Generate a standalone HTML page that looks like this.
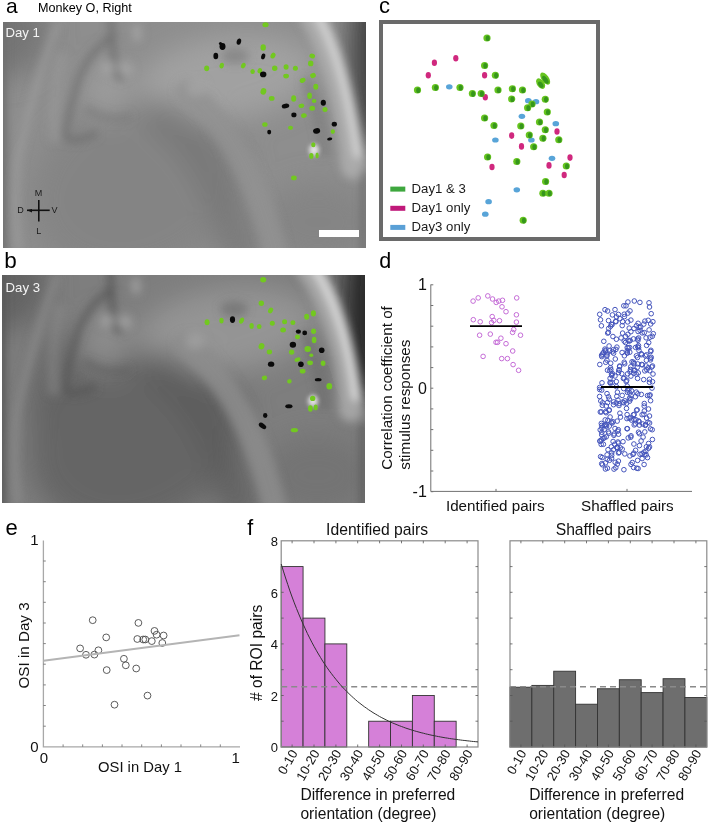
<!DOCTYPE html><html><head><meta charset="utf-8"><style>html,body{margin:0;padding:0;background:#fff;width:708px;height:825px;overflow:hidden}</style></head><body><svg width="708" height="825" viewBox="0 0 708 825" style="position:absolute;left:0;top:0">
<defs>
<filter id="b2" x="-50%" y="-50%" width="200%" height="200%"><feGaussianBlur stdDeviation="2"/></filter>
<filter id="b3" x="-50%" y="-50%" width="200%" height="200%"><feGaussianBlur stdDeviation="3"/></filter>
<filter id="b4" x="-50%" y="-50%" width="200%" height="200%"><feGaussianBlur stdDeviation="4"/></filter>
<filter id="b5" x="-50%" y="-50%" width="200%" height="200%"><feGaussianBlur stdDeviation="5"/></filter>
<filter id="b6" x="-50%" y="-50%" width="200%" height="200%"><feGaussianBlur stdDeviation="6"/></filter>
<filter id="b8" x="-50%" y="-50%" width="200%" height="200%"><feGaussianBlur stdDeviation="8"/></filter>
<filter id="b10" x="-50%" y="-50%" width="200%" height="200%"><feGaussianBlur stdDeviation="10"/></filter>
<filter id="b14" x="-50%" y="-50%" width="200%" height="200%"><feGaussianBlur stdDeviation="14"/></filter>
<filter id="b18" x="-50%" y="-50%" width="200%" height="200%"><feGaussianBlur stdDeviation="18"/></filter>
<filter id="b24" x="-50%" y="-50%" width="200%" height="200%"><feGaussianBlur stdDeviation="24"/></filter>
</defs>
<rect width="708" height="825" fill="#ffffff"/>
<text x="6" y="12.8" font-family="Liberation Sans, Arial, sans-serif" font-size="21">a</text>
<text x="38" y="11.5" font-family="Liberation Sans, Arial, sans-serif" font-size="12.6">Monkey O, Right</text>
<text x="4.3" y="268" font-family="Liberation Sans, Arial, sans-serif" font-size="22.5">b</text>
<text x="379" y="13" font-family="Liberation Sans, Arial, sans-serif" font-size="22">c</text>
<text x="379.3" y="267.8" font-family="Liberation Sans, Arial, sans-serif" font-size="21.5">d</text>
<text x="5.6" y="534.8" font-family="Liberation Sans, Arial, sans-serif" font-size="22">e</text>
<text x="247.2" y="534.9" font-family="Liberation Sans, Arial, sans-serif" font-size="21.5">f</text>
<clipPath id="clip0"><rect x="3" y="22" width="363" height="226"/></clipPath>
<g clip-path="url(#clip0)">
<rect x="3" y="22" width="363" height="226" fill="#8e8e8e"/>
<g filter="url(#b14)">
<ellipse cx="3" cy="32" rx="45" ry="45" fill="#727272" opacity="0.9" transform="rotate(0 3 32)"/>
<ellipse cx="138" cy="184" rx="112" ry="88" fill="#848484" opacity="0.95" transform="rotate(-25 138 184)"/>
<ellipse cx="228" cy="77" rx="90" ry="42" fill="#a6a6a6" opacity="0.8" transform="rotate(-8 228 77)"/>
<ellipse cx="108" cy="92" rx="22" ry="30" fill="#a6a6a6" opacity="0.6" transform="rotate(0 108 92)"/>
<ellipse cx="318" cy="222" rx="55" ry="40" fill="#828282" opacity="0.8" transform="rotate(0 318 222)"/>
<ellipse cx="375" cy="57" rx="24" ry="95" fill="#3c3c3c" opacity="1" transform="rotate(0 375 57)"/>
<path d="M160,95 Q215,135 238,235" transform="translate(3,22)" fill="none" stroke="#747474" stroke-width="34" opacity="0.8" stroke-linecap="round"/>
<ellipse cx="53" cy="127" rx="22" ry="55" fill="#7c7c7c" opacity="0.0" transform="rotate(15 53 127)"/>
</g>
<g filter="url(#b4)">
<path d="M185,70 Q245,120 272,230" transform="translate(3,22)" fill="none" stroke="#929292" stroke-width="24" opacity="0.85" stroke-linecap="round"/>
<path d="M-3,-10 L-3,240" transform="translate(3,22)" fill="none" stroke="#707070" stroke-width="14" opacity="1" stroke-linecap="round"/>
<path d="M58,35 C52,60 50,90 52,115" transform="translate(3,22)" fill="none" stroke="#9c9c9c" stroke-width="12" opacity="0.5" stroke-linecap="round"/>
<path d="M54.5,2.7 C40,40 22,100 15,137 C12,170 12,200 16,226" transform="translate(3,22)" fill="none" stroke="#9c9c9c" stroke-width="6" opacity="0.9" stroke-linecap="round"/>
<path d="M108,-5 L111.6,50.8 L118,56" transform="translate(3,22)" fill="none" stroke="#6e6e6e" stroke-width="6" opacity="0.9" stroke-linecap="round"/>
<path d="M106.6,16.4 Q80,35 72,70 Q62,105 62,115 Q72,122 92,112" transform="translate(3,22)" fill="none" stroke="#6e6e6e" stroke-width="6" opacity="0.85" stroke-linecap="round"/>
<path d="M85,88 Q105,100 125,95" transform="translate(3,22)" fill="none" stroke="#6e6e6e" stroke-width="9" opacity="0.4" stroke-linecap="round"/>
<ellipse cx="108" cy="68" rx="7" ry="7" fill="#a4a4a4" opacity="0.9" transform="rotate(0 108 68)"/>
<ellipse cx="126" cy="69" rx="7" ry="7" fill="#a4a4a4" opacity="0.9" transform="rotate(0 126 69)"/>
<ellipse cx="137" cy="33" rx="5" ry="9" fill="#a4a4a4" opacity="0.9" transform="rotate(0 137 33)"/>
<ellipse cx="196" cy="88" rx="10" ry="8" fill="#a4a4a4" opacity="0.8" transform="rotate(0 196 88)"/>
<ellipse cx="235" cy="56" rx="14" ry="8" fill="#7c7c7c" opacity="0.6" transform="rotate(0 235 56)"/>
<path d="M307,-8 C328,25 342,80 350,145" transform="translate(3,22)" fill="none" stroke="#adadad" stroke-width="24" opacity="0.9" stroke-linecap="round"/>
<path d="M314,-8 C334,25 347,80 355,132" transform="translate(3,22)" fill="none" stroke="#d2d2d2" stroke-width="9" opacity="1" stroke-linecap="round"/>
<path d="M304,60 C312,80 318,100 322,130" transform="translate(3,22)" fill="none" stroke="#7a7a7a" stroke-width="10" opacity="0.6" stroke-linecap="round"/>
<path d="M361,150 L361,240" transform="translate(3,22)" fill="none" stroke="#666666" stroke-width="5" opacity="1" stroke-linecap="round"/>
</g>
<g filter="url(#b2)">
<ellipse cx="314" cy="150" rx="5" ry="6" fill="#ececec" opacity="0.9" transform="rotate(0 314 150)"/>
</g>
</g>
<ellipse cx="265.5" cy="24.7" rx="3.15" ry="2.52" transform="rotate(0 265.5 24.7)" fill="#72c820"/>
<ellipse cx="263.2" cy="47.5" rx="2.70" ry="3.24" transform="rotate(0 263.2 47.5)" fill="#72c820"/>
<ellipse cx="273" cy="55.6" rx="2.34" ry="3.06" transform="rotate(30 273 55.6)" fill="#72c820"/>
<ellipse cx="206.7" cy="68.3" rx="2.52" ry="2.88" transform="rotate(0 206.7 68.3)" fill="#72c820"/>
<ellipse cx="221.7" cy="65.6" rx="2.16" ry="2.88" transform="rotate(15 221.7 65.6)" fill="#72c820"/>
<ellipse cx="243.3" cy="65.6" rx="2.16" ry="2.88" transform="rotate(30 243.3 65.6)" fill="#72c820"/>
<ellipse cx="252.6" cy="71.5" rx="2.25" ry="2.52" transform="rotate(0 252.6 71.5)" fill="#72c820"/>
<ellipse cx="259.8" cy="70.8" rx="2.25" ry="2.70" transform="rotate(20 259.8 70.8)" fill="#72c820"/>
<ellipse cx="274.7" cy="68.3" rx="2.70" ry="2.70" transform="rotate(0 274.7 68.3)" fill="#72c820"/>
<ellipse cx="286.1" cy="67" rx="2.52" ry="2.70" transform="rotate(0 286.1 67)" fill="#72c820"/>
<ellipse cx="295.4" cy="68.3" rx="2.52" ry="2.52" transform="rotate(0 295.4 68.3)" fill="#72c820"/>
<ellipse cx="286.1" cy="76.1" rx="2.88" ry="2.34" transform="rotate(0 286.1 76.1)" fill="#72c820"/>
<ellipse cx="312.2" cy="56" rx="2.88" ry="2.34" transform="rotate(20 312.2 56)" fill="#72c820"/>
<ellipse cx="310.7" cy="63.4" rx="2.70" ry="2.88" transform="rotate(0 310.7 63.4)" fill="#72c820"/>
<ellipse cx="313" cy="75.5" rx="2.88" ry="2.52" transform="rotate(-20 313 75.5)" fill="#72c820"/>
<ellipse cx="302.6" cy="80.4" rx="3.06" ry="2.34" transform="rotate(-30 302.6 80.4)" fill="#72c820"/>
<ellipse cx="315.8" cy="86.7" rx="2.52" ry="3.06" transform="rotate(0 315.8 86.7)" fill="#72c820"/>
<ellipse cx="263.4" cy="91.4" rx="2.88" ry="3.24" transform="rotate(20 263.4 91.4)" fill="#72c820"/>
<ellipse cx="271.7" cy="98.4" rx="2.88" ry="2.34" transform="rotate(0 271.7 98.4)" fill="#72c820"/>
<ellipse cx="293.7" cy="98.5" rx="2.52" ry="3.24" transform="rotate(0 293.7 98.5)" fill="#72c820"/>
<ellipse cx="309.6" cy="95.8" rx="2.34" ry="3.24" transform="rotate(0 309.6 95.8)" fill="#72c820"/>
<ellipse cx="314.1" cy="101.1" rx="2.34" ry="1.98" transform="rotate(0 314.1 101.1)" fill="#72c820"/>
<ellipse cx="301.4" cy="105.8" rx="2.88" ry="2.16" transform="rotate(-15 301.4 105.8)" fill="#72c820"/>
<ellipse cx="312.2" cy="108.2" rx="2.88" ry="2.52" transform="rotate(0 312.2 108.2)" fill="#72c820"/>
<ellipse cx="325" cy="109.5" rx="2.52" ry="2.52" transform="rotate(0 325 109.5)" fill="#72c820"/>
<ellipse cx="303.9" cy="115.6" rx="2.88" ry="2.34" transform="rotate(-15 303.9 115.6)" fill="#72c820"/>
<ellipse cx="264.9" cy="124.5" rx="2.70" ry="2.34" transform="rotate(0 264.9 124.5)" fill="#72c820"/>
<ellipse cx="290.5" cy="127.8" rx="2.52" ry="2.16" transform="rotate(0 290.5 127.8)" fill="#72c820"/>
<ellipse cx="332.8" cy="131.6" rx="2.16" ry="2.34" transform="rotate(0 332.8 131.6)" fill="#72c820"/>
<ellipse cx="313.3" cy="144.7" rx="2.16" ry="2.52" transform="rotate(0 313.3 144.7)" fill="#72c820"/>
<ellipse cx="311.3" cy="155.9" rx="2.16" ry="2.88" transform="rotate(0 311.3 155.9)" fill="#72c820"/>
<ellipse cx="317.1" cy="155.4" rx="1.62" ry="2.88" transform="rotate(0 317.1 155.4)" fill="#72c820"/>
<ellipse cx="293.9" cy="177.9" rx="2.88" ry="2.34" transform="rotate(0 293.9 177.9)" fill="#72c820"/>
<ellipse cx="222.5" cy="46.5" rx="3" ry="3.4" transform="rotate(0 222.5 46.5)" fill="#0a0a0a"/>
<ellipse cx="220.5" cy="43.5" rx="1.6" ry="1.6" transform="rotate(0 220.5 43.5)" fill="#0a0a0a"/>
<ellipse cx="238.9" cy="41.6" rx="2.2" ry="3.2" transform="rotate(15 238.9 41.6)" fill="#0a0a0a"/>
<ellipse cx="215.8" cy="56" rx="2.4" ry="3.2" transform="rotate(0 215.8 56)" fill="#0a0a0a"/>
<ellipse cx="263.2" cy="56.4" rx="2" ry="3" transform="rotate(15 263.2 56.4)" fill="#0a0a0a"/>
<ellipse cx="263.2" cy="74.4" rx="3.2" ry="2.8" transform="rotate(0 263.2 74.4)" fill="#0a0a0a"/>
<ellipse cx="285.5" cy="106" rx="3.8" ry="2.4" transform="rotate(-10 285.5 106)" fill="#0a0a0a"/>
<ellipse cx="323.3" cy="102.7" rx="2.6" ry="3" transform="rotate(0 323.3 102.7)" fill="#0a0a0a"/>
<ellipse cx="293.9" cy="114.9" rx="2.6" ry="2.4" transform="rotate(0 293.9 114.9)" fill="#0a0a0a"/>
<ellipse cx="334.3" cy="124.2" rx="2.6" ry="2.4" transform="rotate(0 334.3 124.2)" fill="#0a0a0a"/>
<ellipse cx="316.6" cy="130.9" rx="3.6" ry="2.8" transform="rotate(-10 316.6 130.9)" fill="#0a0a0a"/>
<ellipse cx="269.2" cy="132.1" rx="2" ry="2.4" transform="rotate(0 269.2 132.1)" fill="#0a0a0a"/>
<ellipse cx="329.7" cy="139" rx="2.6" ry="1.4" transform="rotate(-10 329.7 139)" fill="#0a0a0a"/>
<text x="5.4" y="36.6" font-family="Liberation Sans, Arial, sans-serif" font-size="13.2" fill="#f4f4f4">Day 1</text>
<g stroke="#111" stroke-width="1.6"><line x1="38.8" y1="200" x2="38.8" y2="221.5"/><line x1="27" y1="210.3" x2="49.7" y2="210.3"/></g>
<path d="M27,210.3 L32,209 L32,212.5 Z" fill="#111"/>
<g font-family="Liberation Sans, Arial, sans-serif" font-size="9" fill="#1a1a1a" text-anchor="middle"><text x="38.6" y="195.8">M</text><text x="38.8" y="233.5">L</text><text x="20.6" y="213.3">D</text><text x="54.6" y="213.3">V</text></g>
<rect x="319" y="230" width="40" height="7" fill="#ffffff"/>
<clipPath id="clip1"><rect x="2" y="275" width="363" height="228"/></clipPath>
<g clip-path="url(#clip1)">
<rect x="2" y="275" width="363" height="228" fill="#7e7e7e"/>
<g filter="url(#b14)">
<ellipse cx="2" cy="285" rx="45" ry="45" fill="#606060" opacity="0.9" transform="rotate(0 2 285)"/>
<ellipse cx="137" cy="437" rx="112" ry="88" fill="#646464" opacity="0.95" transform="rotate(-25 137 437)"/>
<ellipse cx="227" cy="330" rx="90" ry="42" fill="#9a9a9a" opacity="0.8" transform="rotate(-8 227 330)"/>
<ellipse cx="107" cy="345" rx="22" ry="30" fill="#9a9a9a" opacity="0.6" transform="rotate(0 107 345)"/>
<ellipse cx="317" cy="475" rx="55" ry="40" fill="#727272" opacity="0.8" transform="rotate(0 317 475)"/>
<ellipse cx="368" cy="310" rx="26" ry="95" fill="#262626" opacity="1" transform="rotate(0 368 310)"/>
<path d="M160,95 Q215,135 238,235" transform="translate(2,275)" fill="none" stroke="#5a5a5a" stroke-width="34" opacity="0.8" stroke-linecap="round"/>
<ellipse cx="52" cy="380" rx="22" ry="55" fill="#626262" opacity="0.8" transform="rotate(15 52 380)"/>
</g>
<g filter="url(#b4)">
<path d="M185,70 Q245,120 272,230" transform="translate(2,275)" fill="none" stroke="#8c8c8c" stroke-width="24" opacity="0.85" stroke-linecap="round"/>
<path d="M-3,-10 L-3,240" transform="translate(2,275)" fill="none" stroke="#5a5a5a" stroke-width="14" opacity="1" stroke-linecap="round"/>
<path d="M58,35 C52,60 50,90 52,115" transform="translate(2,275)" fill="none" stroke="#8c8c8c" stroke-width="12" opacity="0.5" stroke-linecap="round"/>
<path d="M54.5,2.7 C40,40 22,100 15,137 C12,170 12,200 16,226" transform="translate(2,275)" fill="none" stroke="#8c8c8c" stroke-width="6" opacity="0.9" stroke-linecap="round"/>
<path d="M108,-5 L111.6,50.8 L118,56" transform="translate(2,275)" fill="none" stroke="#555555" stroke-width="6" opacity="0.9" stroke-linecap="round"/>
<path d="M106.6,16.4 Q80,35 72,70 Q62,105 62,115 Q72,122 92,112" transform="translate(2,275)" fill="none" stroke="#555555" stroke-width="6" opacity="0.85" stroke-linecap="round"/>
<path d="M85,88 Q105,100 125,95" transform="translate(2,275)" fill="none" stroke="#555555" stroke-width="9" opacity="0.4" stroke-linecap="round"/>
<ellipse cx="107" cy="321" rx="7" ry="7" fill="#a0a0a0" opacity="0.9" transform="rotate(0 107 321)"/>
<ellipse cx="125" cy="322" rx="7" ry="7" fill="#a0a0a0" opacity="0.9" transform="rotate(0 125 322)"/>
<ellipse cx="136" cy="286" rx="5" ry="9" fill="#a0a0a0" opacity="0.9" transform="rotate(0 136 286)"/>
<ellipse cx="195" cy="341" rx="10" ry="8" fill="#a0a0a0" opacity="0.8" transform="rotate(0 195 341)"/>
<ellipse cx="234" cy="309" rx="14" ry="8" fill="#6a6a6a" opacity="0.6" transform="rotate(0 234 309)"/>
<path d="M305,-8 C326,20 342,65 349,135" transform="translate(2,275)" fill="none" stroke="#a8a8a8" stroke-width="24" opacity="0.9" stroke-linecap="round"/>
<path d="M312,-8 C331,20 347,65 354,122" transform="translate(2,275)" fill="none" stroke="#d8d8d8" stroke-width="9" opacity="1" stroke-linecap="round"/>
<path d="M304,60 C312,80 318,100 322,130" transform="translate(2,275)" fill="none" stroke="#6a6a6a" stroke-width="10" opacity="0.6" stroke-linecap="round"/>
<path d="M361,150 L361,240" transform="translate(2,275)" fill="none" stroke="#555555" stroke-width="5" opacity="1" stroke-linecap="round"/>
</g>
<g filter="url(#b2)">
<ellipse cx="313" cy="401" rx="5" ry="6" fill="#ececec" opacity="0.9" transform="rotate(0 313 401)"/>
</g>
</g>
<ellipse cx="263.2" cy="279.7" rx="3.06" ry="2.70" transform="rotate(0 263.2 279.7)" fill="#72c820"/>
<ellipse cx="261.3" cy="303.2" rx="2.70" ry="2.70" transform="rotate(0 261.3 303.2)" fill="#72c820"/>
<ellipse cx="270.6" cy="310.4" rx="2.34" ry="3.06" transform="rotate(30 270.6 310.4)" fill="#72c820"/>
<ellipse cx="207.1" cy="322.3" rx="2.52" ry="3.06" transform="rotate(0 207.1 322.3)" fill="#72c820"/>
<ellipse cx="221.5" cy="320.6" rx="2.16" ry="2.88" transform="rotate(0 221.5 320.6)" fill="#72c820"/>
<ellipse cx="241.6" cy="320.6" rx="2.16" ry="3.24" transform="rotate(30 241.6 320.6)" fill="#72c820"/>
<ellipse cx="251.6" cy="325.9" rx="2.16" ry="2.88" transform="rotate(0 251.6 325.9)" fill="#72c820"/>
<ellipse cx="259.2" cy="326.5" rx="2.34" ry="2.52" transform="rotate(0 259.2 326.5)" fill="#72c820"/>
<ellipse cx="272.3" cy="323.2" rx="2.52" ry="2.52" transform="rotate(0 272.3 323.2)" fill="#72c820"/>
<ellipse cx="284.6" cy="321.7" rx="2.52" ry="2.52" transform="rotate(0 284.6 321.7)" fill="#72c820"/>
<ellipse cx="292.9" cy="322.7" rx="2.52" ry="2.34" transform="rotate(0 292.9 322.7)" fill="#72c820"/>
<ellipse cx="283.1" cy="330.1" rx="2.88" ry="2.52" transform="rotate(0 283.1 330.1)" fill="#72c820"/>
<ellipse cx="306.7" cy="316.8" rx="2.52" ry="3.06" transform="rotate(0 306.7 316.8)" fill="#72c820"/>
<ellipse cx="313.4" cy="313.4" rx="2.52" ry="3.06" transform="rotate(0 313.4 313.4)" fill="#72c820"/>
<ellipse cx="313.6" cy="331.2" rx="2.52" ry="2.70" transform="rotate(0 313.6 331.2)" fill="#72c820"/>
<ellipse cx="297.5" cy="336.9" rx="2.52" ry="2.34" transform="rotate(0 297.5 336.9)" fill="#72c820"/>
<ellipse cx="314.1" cy="340.1" rx="2.34" ry="3.24" transform="rotate(0 314.1 340.1)" fill="#72c820"/>
<ellipse cx="261.5" cy="346.2" rx="2.88" ry="3.24" transform="rotate(20 261.5 346.2)" fill="#72c820"/>
<ellipse cx="269.4" cy="351.9" rx="2.70" ry="2.34" transform="rotate(0 269.4 351.9)" fill="#72c820"/>
<ellipse cx="291.6" cy="352.1" rx="2.70" ry="2.70" transform="rotate(0 291.6 352.1)" fill="#72c820"/>
<ellipse cx="307.7" cy="349" rx="3.24" ry="2.88" transform="rotate(0 307.7 349)" fill="#72c820"/>
<ellipse cx="311.3" cy="355.3" rx="1.98" ry="1.80" transform="rotate(0 311.3 355.3)" fill="#72c820"/>
<ellipse cx="297.5" cy="359.6" rx="3.06" ry="1.98" transform="rotate(-20 297.5 359.6)" fill="#72c820"/>
<ellipse cx="310.1" cy="362.8" rx="2.88" ry="2.34" transform="rotate(0 310.1 362.8)" fill="#72c820"/>
<ellipse cx="323.1" cy="363.2" rx="2.34" ry="2.70" transform="rotate(0 323.1 363.2)" fill="#72c820"/>
<ellipse cx="302.6" cy="371.2" rx="2.88" ry="2.34" transform="rotate(0 302.6 371.2)" fill="#72c820"/>
<ellipse cx="264.4" cy="377.9" rx="2.70" ry="2.16" transform="rotate(-20 264.4 377.9)" fill="#72c820"/>
<ellipse cx="289.4" cy="381.3" rx="2.34" ry="2.16" transform="rotate(-30 289.4 381.3)" fill="#72c820"/>
<ellipse cx="329.3" cy="386.3" rx="2.88" ry="3.24" transform="rotate(0 329.3 386.3)" fill="#72c820"/>
<ellipse cx="312.7" cy="398.4" rx="2.70" ry="2.70" transform="rotate(0 312.7 398.4)" fill="#72c820"/>
<ellipse cx="310.4" cy="408.5" rx="2.34" ry="3.24" transform="rotate(0 310.4 408.5)" fill="#72c820"/>
<ellipse cx="315.7" cy="407.4" rx="1.98" ry="2.88" transform="rotate(0 315.7 407.4)" fill="#72c820"/>
<ellipse cx="294.4" cy="430.2" rx="3.60" ry="2.16" transform="rotate(0 294.4 430.2)" fill="#72c820"/>
<ellipse cx="232.5" cy="319.6" rx="2.6" ry="3.4" transform="rotate(0 232.5 319.6)" fill="#0a0a0a"/>
<ellipse cx="298.4" cy="331.6" rx="2.6" ry="2.2" transform="rotate(0 298.4 331.6)" fill="#0a0a0a"/>
<ellipse cx="304.7" cy="332.9" rx="2.4" ry="2.4" transform="rotate(0 304.7 332.9)" fill="#0a0a0a"/>
<ellipse cx="292.9" cy="344.8" rx="3.2" ry="3" transform="rotate(0 292.9 344.8)" fill="#0a0a0a"/>
<ellipse cx="321.7" cy="350.3" rx="2.8" ry="2.8" transform="rotate(0 321.7 350.3)" fill="#0a0a0a"/>
<ellipse cx="271.1" cy="364.2" rx="3.2" ry="2.6" transform="rotate(0 271.1 364.2)" fill="#0a0a0a"/>
<ellipse cx="300.9" cy="364.2" rx="2.8" ry="2.8" transform="rotate(0 300.9 364.2)" fill="#0a0a0a"/>
<ellipse cx="318.2" cy="379.7" rx="3.4" ry="1.6" transform="rotate(0 318.2 379.7)" fill="#0a0a0a"/>
<ellipse cx="288.9" cy="406.2" rx="3.6" ry="2" transform="rotate(0 288.9 406.2)" fill="#0a0a0a"/>
<ellipse cx="265.2" cy="415.5" rx="2.2" ry="2.4" transform="rotate(0 265.2 415.5)" fill="#0a0a0a"/>
<ellipse cx="262.5" cy="425.9" rx="4.2" ry="2.4" transform="rotate(35 262.5 425.9)" fill="#0a0a0a"/>
<text x="5.6" y="291.7" font-family="Liberation Sans, Arial, sans-serif" font-size="13.2" fill="#f4f4f4">Day 3</text>
<rect x="381" y="22" width="217" height="217" fill="#fff" stroke="#6a6a6a" stroke-width="4"/>
<ellipse cx="434.4" cy="62.7" rx="2.6" ry="3.3" fill="#d0287e"/>
<ellipse cx="455.8" cy="58.3" rx="2.6" ry="3.3" fill="#d0287e"/>
<ellipse cx="428.3" cy="75.3" rx="2.6" ry="3.3" fill="#d0287e"/>
<ellipse cx="484.6" cy="75.3" rx="2.6" ry="3.3" fill="#d0287e"/>
<ellipse cx="485.3" cy="97.3" rx="2.6" ry="3.3" fill="#d0287e"/>
<ellipse cx="511.7" cy="135.6" rx="2.6" ry="3.3" fill="#d0287e"/>
<ellipse cx="521.5" cy="146.4" rx="2.6" ry="3.3" fill="#d0287e"/>
<ellipse cx="557" cy="131.5" rx="2.6" ry="3.3" fill="#d0287e"/>
<ellipse cx="570" cy="157.6" rx="2.6" ry="3.3" fill="#d0287e"/>
<ellipse cx="549" cy="165.4" rx="2.6" ry="3.3" fill="#d0287e"/>
<ellipse cx="492" cy="167" rx="2.6" ry="3.3" fill="#d0287e"/>
<ellipse cx="564.2" cy="175" rx="2.6" ry="3.3" fill="#d0287e"/>
<ellipse cx="449.3" cy="86.8" rx="3.3" ry="2.6" fill="#58a4d8"/>
<ellipse cx="528.3" cy="100.7" rx="3.3" ry="2.6" fill="#58a4d8"/>
<ellipse cx="536" cy="101.7" rx="3.3" ry="2.6" fill="#58a4d8"/>
<ellipse cx="521.9" cy="116.3" rx="3.3" ry="2.6" fill="#58a4d8"/>
<ellipse cx="555.8" cy="123.7" rx="3.3" ry="2.6" fill="#58a4d8"/>
<ellipse cx="495.4" cy="140" rx="3.3" ry="2.6" fill="#58a4d8"/>
<ellipse cx="531.4" cy="140" rx="3.3" ry="2.6" fill="#58a4d8"/>
<ellipse cx="552" cy="158.3" rx="3.3" ry="2.6" fill="#58a4d8"/>
<ellipse cx="516.8" cy="189.8" rx="3.3" ry="2.6" fill="#58a4d8"/>
<ellipse cx="488.6" cy="201.7" rx="3.3" ry="2.6" fill="#58a4d8"/>
<ellipse cx="485.3" cy="214.2" rx="3.3" ry="2.6" fill="#58a4d8"/>
<ellipse cx="487" cy="38" rx="3.6" ry="3.5" fill="#66c41f"/>
<ellipse cx="487.7" cy="38.3" rx="2" ry="2.8" fill="#36961c"/>
<ellipse cx="484.6" cy="65.4" rx="3.6" ry="3.5" fill="#66c41f"/>
<ellipse cx="485.3" cy="65.7" rx="2" ry="2.8" fill="#36961c"/>
<ellipse cx="495.4" cy="75.3" rx="3.6" ry="3.5" fill="#66c41f"/>
<ellipse cx="496.09999999999997" cy="75.6" rx="2" ry="2.8" fill="#36961c"/>
<ellipse cx="417.5" cy="90" rx="3.6" ry="3.5" fill="#66c41f"/>
<ellipse cx="418.2" cy="90.3" rx="2" ry="2.8" fill="#36961c"/>
<ellipse cx="435.4" cy="87.5" rx="3.6" ry="3.5" fill="#66c41f"/>
<ellipse cx="436.09999999999997" cy="87.8" rx="2" ry="2.8" fill="#36961c"/>
<ellipse cx="460" cy="87.5" rx="3.6" ry="3.5" fill="#66c41f"/>
<ellipse cx="460.7" cy="87.8" rx="2" ry="2.8" fill="#36961c"/>
<ellipse cx="472.4" cy="93.6" rx="3.6" ry="3.5" fill="#66c41f"/>
<ellipse cx="473.09999999999997" cy="93.89999999999999" rx="2" ry="2.8" fill="#36961c"/>
<ellipse cx="481.2" cy="93.6" rx="3.6" ry="3.5" fill="#66c41f"/>
<ellipse cx="481.9" cy="93.89999999999999" rx="2" ry="2.8" fill="#36961c"/>
<ellipse cx="498" cy="90" rx="3.6" ry="3.5" fill="#66c41f"/>
<ellipse cx="498.7" cy="90.3" rx="2" ry="2.8" fill="#36961c"/>
<ellipse cx="512.4" cy="88.8" rx="3.6" ry="3.5" fill="#66c41f"/>
<ellipse cx="513.1" cy="89.1" rx="2" ry="2.8" fill="#36961c"/>
<ellipse cx="522.5" cy="90" rx="3.6" ry="3.5" fill="#66c41f"/>
<ellipse cx="523.2" cy="90.3" rx="2" ry="2.8" fill="#36961c"/>
<ellipse cx="511.7" cy="99" rx="3.6" ry="3.5" fill="#66c41f"/>
<ellipse cx="512.4" cy="99.3" rx="2" ry="2.8" fill="#36961c"/>
<ellipse cx="545.3" cy="99.3" rx="3.6" ry="3.5" fill="#66c41f"/>
<ellipse cx="546.0" cy="99.6" rx="2" ry="2.8" fill="#36961c"/>
<ellipse cx="532" cy="104" rx="3.6" ry="3.5" fill="#66c41f"/>
<ellipse cx="532.7" cy="104.3" rx="2" ry="2.8" fill="#36961c"/>
<ellipse cx="527.6" cy="107.8" rx="3.6" ry="3.5" fill="#66c41f"/>
<ellipse cx="528.3000000000001" cy="108.1" rx="2" ry="2.8" fill="#36961c"/>
<ellipse cx="547.3" cy="111.9" rx="3.6" ry="3.5" fill="#66c41f"/>
<ellipse cx="548.0" cy="112.2" rx="2" ry="2.8" fill="#36961c"/>
<ellipse cx="484.6" cy="118" rx="3.6" ry="3.5" fill="#66c41f"/>
<ellipse cx="485.3" cy="118.3" rx="2" ry="2.8" fill="#36961c"/>
<ellipse cx="494" cy="125.4" rx="3.6" ry="3.5" fill="#66c41f"/>
<ellipse cx="494.7" cy="125.7" rx="2" ry="2.8" fill="#36961c"/>
<ellipse cx="520.8" cy="126" rx="3.6" ry="3.5" fill="#66c41f"/>
<ellipse cx="521.5" cy="126.3" rx="2" ry="2.8" fill="#36961c"/>
<ellipse cx="539.5" cy="122" rx="3.6" ry="3.5" fill="#66c41f"/>
<ellipse cx="540.2" cy="122.3" rx="2" ry="2.8" fill="#36961c"/>
<ellipse cx="545.3" cy="129.8" rx="3.6" ry="3.5" fill="#66c41f"/>
<ellipse cx="546.0" cy="130.10000000000002" rx="2" ry="2.8" fill="#36961c"/>
<ellipse cx="529.3" cy="135" rx="3.6" ry="3.5" fill="#66c41f"/>
<ellipse cx="530.0" cy="135.3" rx="2" ry="2.8" fill="#36961c"/>
<ellipse cx="542.9" cy="138.3" rx="3.6" ry="3.5" fill="#66c41f"/>
<ellipse cx="543.6" cy="138.60000000000002" rx="2" ry="2.8" fill="#36961c"/>
<ellipse cx="558.8" cy="139.7" rx="3.6" ry="3.5" fill="#66c41f"/>
<ellipse cx="559.5" cy="140.0" rx="2" ry="2.8" fill="#36961c"/>
<ellipse cx="533.7" cy="146.8" rx="3.6" ry="3.5" fill="#66c41f"/>
<ellipse cx="534.4000000000001" cy="147.10000000000002" rx="2" ry="2.8" fill="#36961c"/>
<ellipse cx="487.6" cy="157" rx="3.6" ry="3.5" fill="#66c41f"/>
<ellipse cx="488.3" cy="157.3" rx="2" ry="2.8" fill="#36961c"/>
<ellipse cx="516.8" cy="161.4" rx="3.6" ry="3.5" fill="#66c41f"/>
<ellipse cx="517.5" cy="161.70000000000002" rx="2" ry="2.8" fill="#36961c"/>
<ellipse cx="566.3" cy="166" rx="3.6" ry="3.5" fill="#66c41f"/>
<ellipse cx="567.0" cy="166.3" rx="2" ry="2.8" fill="#36961c"/>
<ellipse cx="545.6" cy="181.4" rx="3.6" ry="3.5" fill="#66c41f"/>
<ellipse cx="546.3000000000001" cy="181.70000000000002" rx="2" ry="2.8" fill="#36961c"/>
<ellipse cx="542.9" cy="193.2" rx="3.6" ry="3.5" fill="#66c41f"/>
<ellipse cx="543.6" cy="193.5" rx="2" ry="2.8" fill="#36961c"/>
<ellipse cx="549" cy="193.2" rx="3.6" ry="3.5" fill="#66c41f"/>
<ellipse cx="549.7" cy="193.5" rx="2" ry="2.8" fill="#36961c"/>
<ellipse cx="523.2" cy="220.3" rx="3.6" ry="3.5" fill="#66c41f"/>
<ellipse cx="523.9000000000001" cy="220.60000000000002" rx="2" ry="2.8" fill="#36961c"/>
<ellipse cx="545.2" cy="78.6" rx="7" ry="3.6" transform="rotate(55 545.2 78.6)" fill="#66c41f"/>
<ellipse cx="546.2" cy="79.1" rx="4.5" ry="2.2" transform="rotate(55 545.2 78.6)" fill="#36961c"/>
<ellipse cx="540.6" cy="83.6" rx="6" ry="3.6" transform="rotate(55 540.6 83.6)" fill="#66c41f"/>
<ellipse cx="541.6" cy="84.1" rx="3.5" ry="2.2" transform="rotate(55 540.6 83.6)" fill="#36961c"/>
<rect x="390.3" y="186.6" width="15" height="5" fill="#3ea73e"/>
<rect x="390.3" y="205.8" width="15" height="5" fill="#c0197a"/>
<rect x="390.3" y="224.9" width="15" height="5" fill="#5aa0d6"/>
<g font-family="Liberation Sans, Arial, sans-serif" font-size="13.2" fill="#1a1a1a"><text x="411.6" y="193.4">Day1 &amp; 3</text><text x="411.6" y="212.4">Day1 only</text><text x="411.6" y="230.8">Day3 only</text></g>
<g stroke="#707070" stroke-width="1" fill="none">
<path d="M430.8,284.5 V491.4 H692"/>
<line x1="430.8" y1="284.8" x2="433.3" y2="284.8"/>
<line x1="430.8" y1="305.5" x2="433.3" y2="305.5"/>
<line x1="430.8" y1="326.2" x2="433.3" y2="326.2"/>
<line x1="430.8" y1="346.9" x2="433.3" y2="346.9"/>
<line x1="430.8" y1="367.6" x2="433.3" y2="367.6"/>
<line x1="430.8" y1="388.2" x2="433.3" y2="388.2"/>
<line x1="430.8" y1="408.9" x2="433.3" y2="408.9"/>
<line x1="430.8" y1="429.6" x2="433.3" y2="429.6"/>
<line x1="430.8" y1="450.3" x2="433.3" y2="450.3"/>
<line x1="430.8" y1="471.0" x2="433.3" y2="471.0"/>
<line x1="430.8" y1="491.7" x2="433.3" y2="491.7"/>
<line x1="496" y1="491.4" x2="496" y2="488.9"/><line x1="627" y1="491.4" x2="627" y2="488.9"/>
</g>
<g font-family="Liberation Sans, Arial, sans-serif" font-size="16" fill="#111" text-anchor="end"><text x="426.8" y="289.6">1</text><text x="426.8" y="393.8">0</text><text x="426.8" y="496.6">-1</text></g>
<g font-family="Liberation Sans, Arial, sans-serif" font-size="15.2" fill="#111"><text transform="translate(392,469.7) rotate(-90)">Correlation coefficient of</text><text transform="translate(410.3,469.7) rotate(-90)">stimulus responses</text></g>
<g font-family="Liberation Sans, Arial, sans-serif" font-size="15.2" fill="#111" text-anchor="middle"><text x="495.3" y="511.2">Identified pairs</text><text x="627.4" y="511.2">Shaffled pairs</text></g>
<g fill="none" stroke="#c46bd6" stroke-width="1">
<circle cx="473.1" cy="301.1" r="2.3"/>
<circle cx="478.2" cy="297.9" r="2.3"/>
<circle cx="487.8" cy="295.9" r="2.3"/>
<circle cx="492.5" cy="299" r="2.3"/>
<circle cx="496.2" cy="302.4" r="2.3"/>
<circle cx="498.7" cy="301.1" r="2.3"/>
<circle cx="502.5" cy="300.3" r="2.3"/>
<circle cx="516.7" cy="297.9" r="2.3"/>
<circle cx="502" cy="306.8" r="2.3"/>
<circle cx="506" cy="311.7" r="2.3"/>
<circle cx="473.3" cy="319.7" r="2.3"/>
<circle cx="480.2" cy="321.8" r="2.3"/>
<circle cx="492.2" cy="316.6" r="2.3"/>
<circle cx="493.8" cy="320.4" r="2.3"/>
<circle cx="491.6" cy="322.6" r="2.3"/>
<circle cx="499.5" cy="320.7" r="2.3"/>
<circle cx="516.4" cy="314.8" r="2.3"/>
<circle cx="516.4" cy="322.1" r="2.3"/>
<circle cx="513.7" cy="329.5" r="2.3"/>
<circle cx="512.6" cy="332.4" r="2.3"/>
<circle cx="520.5" cy="335.2" r="2.3"/>
<circle cx="479.6" cy="335.2" r="2.3"/>
<circle cx="490.3" cy="334.1" r="2.3"/>
<circle cx="500.9" cy="338.2" r="2.3"/>
<circle cx="496" cy="342.3" r="2.3"/>
<circle cx="497.6" cy="342.3" r="2.3"/>
<circle cx="506" cy="343.7" r="2.3"/>
<circle cx="512.7" cy="351" r="2.3"/>
<circle cx="483.1" cy="356.4" r="2.3"/>
<circle cx="501.7" cy="358.6" r="2.3"/>
<circle cx="507.4" cy="358.6" r="2.3"/>
<circle cx="513.1" cy="364.6" r="2.3"/>
<circle cx="518.6" cy="370.3" r="2.3"/>
</g>
<line x1="470" y1="326.1" x2="522" y2="326.1" stroke="#000" stroke-width="1.7"/>
<g fill="none" stroke="#4454bb" stroke-width="1">
<circle cx="626.9" cy="418.6" r="2.3"/>
<circle cx="611.6" cy="458.2" r="2.3"/>
<circle cx="602.0" cy="382.8" r="2.3"/>
<circle cx="619.6" cy="366.7" r="2.3"/>
<circle cx="622.6" cy="321.7" r="2.3"/>
<circle cx="637.2" cy="409.8" r="2.3"/>
<circle cx="615.0" cy="428.5" r="2.3"/>
<circle cx="635.6" cy="347.4" r="2.3"/>
<circle cx="624.1" cy="378.0" r="2.3"/>
<circle cx="637.4" cy="339.0" r="2.3"/>
<circle cx="624.4" cy="355.8" r="2.3"/>
<circle cx="646.6" cy="418.1" r="2.3"/>
<circle cx="646.2" cy="454.9" r="2.3"/>
<circle cx="607.6" cy="402.5" r="2.3"/>
<circle cx="613.7" cy="401.9" r="2.3"/>
<circle cx="636.8" cy="468.2" r="2.3"/>
<circle cx="633.8" cy="373.2" r="2.3"/>
<circle cx="605.0" cy="309.7" r="2.3"/>
<circle cx="645.3" cy="425.4" r="2.3"/>
<circle cx="644.3" cy="332.6" r="2.3"/>
<circle cx="646.1" cy="337.8" r="2.3"/>
<circle cx="628.3" cy="347.8" r="2.3"/>
<circle cx="611.7" cy="455.3" r="2.3"/>
<circle cx="651.2" cy="357.3" r="2.3"/>
<circle cx="610.1" cy="378.3" r="2.3"/>
<circle cx="604.1" cy="429.7" r="2.3"/>
<circle cx="609.1" cy="410.4" r="2.3"/>
<circle cx="638.6" cy="338.0" r="2.3"/>
<circle cx="618.4" cy="461.1" r="2.3"/>
<circle cx="627.9" cy="313.1" r="2.3"/>
<circle cx="613.5" cy="404.7" r="2.3"/>
<circle cx="622.2" cy="395.4" r="2.3"/>
<circle cx="599.7" cy="314.3" r="2.3"/>
<circle cx="629.5" cy="401.2" r="2.3"/>
<circle cx="629.8" cy="352.2" r="2.3"/>
<circle cx="627.2" cy="347.6" r="2.3"/>
<circle cx="637.3" cy="367.4" r="2.3"/>
<circle cx="644.9" cy="321.1" r="2.3"/>
<circle cx="607.8" cy="420.4" r="2.3"/>
<circle cx="611.4" cy="324.1" r="2.3"/>
<circle cx="610.1" cy="382.3" r="2.3"/>
<circle cx="600.5" cy="319.8" r="2.3"/>
<circle cx="642.1" cy="414.7" r="2.3"/>
<circle cx="630.3" cy="417.8" r="2.3"/>
<circle cx="633.8" cy="453.1" r="2.3"/>
<circle cx="605.4" cy="351.2" r="2.3"/>
<circle cx="626.5" cy="408.4" r="2.3"/>
<circle cx="639.1" cy="327.3" r="2.3"/>
<circle cx="643.7" cy="379.6" r="2.3"/>
<circle cx="618.0" cy="400.1" r="2.3"/>
<circle cx="603.3" cy="352.6" r="2.3"/>
<circle cx="615.3" cy="359.0" r="2.3"/>
<circle cx="652.0" cy="388.1" r="2.3"/>
<circle cx="610.4" cy="367.7" r="2.3"/>
<circle cx="601.8" cy="356.6" r="2.3"/>
<circle cx="640.0" cy="454.2" r="2.3"/>
<circle cx="638.6" cy="347.7" r="2.3"/>
<circle cx="607.0" cy="354.9" r="2.3"/>
<circle cx="631.0" cy="435.8" r="2.3"/>
<circle cx="629.7" cy="347.5" r="2.3"/>
<circle cx="639.9" cy="302.4" r="2.3"/>
<circle cx="610.6" cy="326.3" r="2.3"/>
<circle cx="636.4" cy="355.8" r="2.3"/>
<circle cx="615.9" cy="321.7" r="2.3"/>
<circle cx="615.2" cy="462.3" r="2.3"/>
<circle cx="610.3" cy="383.1" r="2.3"/>
<circle cx="614.0" cy="469.1" r="2.3"/>
<circle cx="627.8" cy="390.1" r="2.3"/>
<circle cx="623.8" cy="305.8" r="2.3"/>
<circle cx="599.6" cy="396.5" r="2.3"/>
<circle cx="648.2" cy="320.3" r="2.3"/>
<circle cx="619.0" cy="405.5" r="2.3"/>
<circle cx="619.7" cy="366.0" r="2.3"/>
<circle cx="639.0" cy="350.6" r="2.3"/>
<circle cx="649.5" cy="416.0" r="2.3"/>
<circle cx="652.2" cy="429.7" r="2.3"/>
<circle cx="608.5" cy="396.8" r="2.3"/>
<circle cx="623.8" cy="402.8" r="2.3"/>
<circle cx="612.4" cy="373.6" r="2.3"/>
<circle cx="619.9" cy="413.2" r="2.3"/>
<circle cx="626.7" cy="380.3" r="2.3"/>
<circle cx="621.1" cy="337.9" r="2.3"/>
<circle cx="601.2" cy="444.4" r="2.3"/>
<circle cx="649.5" cy="307.0" r="2.3"/>
<circle cx="638.5" cy="345.6" r="2.3"/>
<circle cx="641.7" cy="364.4" r="2.3"/>
<circle cx="613.1" cy="441.5" r="2.3"/>
<circle cx="611.6" cy="374.4" r="2.3"/>
<circle cx="637.6" cy="378.4" r="2.3"/>
<circle cx="649.5" cy="379.3" r="2.3"/>
<circle cx="639.4" cy="433.7" r="2.3"/>
<circle cx="650.9" cy="350.3" r="2.3"/>
<circle cx="650.7" cy="351.5" r="2.3"/>
<circle cx="602.3" cy="405.3" r="2.3"/>
<circle cx="617.3" cy="464.1" r="2.3"/>
<circle cx="617.4" cy="448.2" r="2.3"/>
<circle cx="622.9" cy="402.0" r="2.3"/>
<circle cx="619.2" cy="452.4" r="2.3"/>
<circle cx="614.2" cy="433.9" r="2.3"/>
<circle cx="649.0" cy="302.8" r="2.3"/>
<circle cx="651.2" cy="313.7" r="2.3"/>
<circle cx="642.8" cy="424.0" r="2.3"/>
<circle cx="616.8" cy="396.3" r="2.3"/>
<circle cx="612.9" cy="336.5" r="2.3"/>
<circle cx="612.1" cy="382.6" r="2.3"/>
<circle cx="635.4" cy="423.9" r="2.3"/>
<circle cx="639.4" cy="425.1" r="2.3"/>
<circle cx="630.7" cy="399.0" r="2.3"/>
<circle cx="653.0" cy="374.0" r="2.3"/>
<circle cx="601.7" cy="463.7" r="2.3"/>
<circle cx="649.7" cy="370.7" r="2.3"/>
<circle cx="650.6" cy="400.7" r="2.3"/>
<circle cx="607.1" cy="454.8" r="2.3"/>
<circle cx="600.1" cy="441.0" r="2.3"/>
<circle cx="642.4" cy="364.9" r="2.3"/>
<circle cx="634.0" cy="328.5" r="2.3"/>
<circle cx="616.4" cy="339.2" r="2.3"/>
<circle cx="619.1" cy="369.8" r="2.3"/>
<circle cx="604.3" cy="437.7" r="2.3"/>
<circle cx="627.6" cy="373.8" r="2.3"/>
<circle cx="625.6" cy="336.4" r="2.3"/>
<circle cx="644.0" cy="452.1" r="2.3"/>
<circle cx="644.3" cy="403.5" r="2.3"/>
<circle cx="606.1" cy="424.7" r="2.3"/>
<circle cx="644.8" cy="431.9" r="2.3"/>
<circle cx="622.2" cy="449.1" r="2.3"/>
<circle cx="600.8" cy="401.0" r="2.3"/>
<circle cx="624.2" cy="341.1" r="2.3"/>
<circle cx="627.0" cy="428.7" r="2.3"/>
<circle cx="627.1" cy="414.6" r="2.3"/>
<circle cx="645.8" cy="451.3" r="2.3"/>
<circle cx="647.9" cy="422.3" r="2.3"/>
<circle cx="610.7" cy="363.2" r="2.3"/>
<circle cx="636.2" cy="374.1" r="2.3"/>
<circle cx="630.8" cy="366.8" r="2.3"/>
<circle cx="619.0" cy="370.2" r="2.3"/>
<circle cx="643.8" cy="324.1" r="2.3"/>
<circle cx="607.6" cy="311.0" r="2.3"/>
<circle cx="611.8" cy="375.7" r="2.3"/>
<circle cx="631.0" cy="464.4" r="2.3"/>
<circle cx="650.1" cy="394.9" r="2.3"/>
<circle cx="641.7" cy="354.7" r="2.3"/>
<circle cx="618.4" cy="314.4" r="2.3"/>
<circle cx="628.2" cy="340.2" r="2.3"/>
<circle cx="629.2" cy="328.1" r="2.3"/>
<circle cx="608.9" cy="433.2" r="2.3"/>
<circle cx="638.1" cy="331.5" r="2.3"/>
<circle cx="623.9" cy="469.7" r="2.3"/>
<circle cx="613.9" cy="435.3" r="2.3"/>
<circle cx="634.2" cy="424.9" r="2.3"/>
<circle cx="617.2" cy="447.4" r="2.3"/>
<circle cx="652.4" cy="439.5" r="2.3"/>
<circle cx="638.6" cy="420.9" r="2.3"/>
<circle cx="648.7" cy="342.6" r="2.3"/>
<circle cx="601.7" cy="434.8" r="2.3"/>
<circle cx="631.4" cy="390.7" r="2.3"/>
<circle cx="646.4" cy="446.8" r="2.3"/>
<circle cx="644.1" cy="464.5" r="2.3"/>
<circle cx="613.4" cy="349.7" r="2.3"/>
<circle cx="626.7" cy="403.2" r="2.3"/>
<circle cx="637.6" cy="460.4" r="2.3"/>
<circle cx="626.0" cy="305.8" r="2.3"/>
<circle cx="605.4" cy="350.3" r="2.3"/>
<circle cx="633.4" cy="414.8" r="2.3"/>
<circle cx="647.5" cy="395.6" r="2.3"/>
<circle cx="612.1" cy="423.1" r="2.3"/>
<circle cx="618.3" cy="429.7" r="2.3"/>
<circle cx="606.3" cy="406.0" r="2.3"/>
<circle cx="637.5" cy="357.5" r="2.3"/>
<circle cx="617.2" cy="421.1" r="2.3"/>
<circle cx="639.1" cy="421.7" r="2.3"/>
<circle cx="620.5" cy="417.1" r="2.3"/>
<circle cx="633.6" cy="467.5" r="2.3"/>
<circle cx="648.5" cy="409.0" r="2.3"/>
<circle cx="638.5" cy="432.2" r="2.3"/>
<circle cx="616.4" cy="386.7" r="2.3"/>
<circle cx="633.5" cy="362.2" r="2.3"/>
<circle cx="636.0" cy="419.8" r="2.3"/>
<circle cx="601.6" cy="355.2" r="2.3"/>
<circle cx="605.0" cy="425.0" r="2.3"/>
<circle cx="644.3" cy="411.0" r="2.3"/>
<circle cx="606.1" cy="412.7" r="2.3"/>
<circle cx="618.5" cy="453.0" r="2.3"/>
<circle cx="611.3" cy="446.8" r="2.3"/>
<circle cx="624.8" cy="453.9" r="2.3"/>
<circle cx="624.8" cy="400.8" r="2.3"/>
<circle cx="645.4" cy="355.8" r="2.3"/>
<circle cx="599.6" cy="387.5" r="2.3"/>
<circle cx="622.6" cy="333.1" r="2.3"/>
<circle cx="602.6" cy="354.2" r="2.3"/>
<circle cx="612.1" cy="324.6" r="2.3"/>
<circle cx="642.1" cy="458.6" r="2.3"/>
<circle cx="629.5" cy="398.2" r="2.3"/>
<circle cx="624.7" cy="363.8" r="2.3"/>
<circle cx="599.9" cy="441.1" r="2.3"/>
<circle cx="633.9" cy="370.6" r="2.3"/>
<circle cx="638.3" cy="372.9" r="2.3"/>
<circle cx="610.9" cy="369.5" r="2.3"/>
<circle cx="644.2" cy="406.0" r="2.3"/>
<circle cx="634.8" cy="370.1" r="2.3"/>
<circle cx="601.7" cy="425.4" r="2.3"/>
<circle cx="599.8" cy="364.5" r="2.3"/>
<circle cx="648.6" cy="443.5" r="2.3"/>
<circle cx="636.3" cy="392.1" r="2.3"/>
<circle cx="609.3" cy="426.1" r="2.3"/>
<circle cx="629.9" cy="455.9" r="2.3"/>
<circle cx="634.2" cy="414.4" r="2.3"/>
<circle cx="649.1" cy="329.9" r="2.3"/>
<circle cx="652.5" cy="381.7" r="2.3"/>
<circle cx="607.7" cy="333.1" r="2.3"/>
<circle cx="602.2" cy="457.5" r="2.3"/>
<circle cx="624.4" cy="316.6" r="2.3"/>
<circle cx="608.5" cy="320.6" r="2.3"/>
<circle cx="607.3" cy="459.3" r="2.3"/>
<circle cx="650.5" cy="359.9" r="2.3"/>
<circle cx="632.0" cy="361.8" r="2.3"/>
<circle cx="643.1" cy="437.1" r="2.3"/>
<circle cx="601.8" cy="432.3" r="2.3"/>
<circle cx="636.5" cy="325.7" r="2.3"/>
<circle cx="632.3" cy="462.5" r="2.3"/>
<circle cx="642.2" cy="332.9" r="2.3"/>
<circle cx="630.8" cy="437.2" r="2.3"/>
<circle cx="609.3" cy="399.2" r="2.3"/>
<circle cx="607.5" cy="370.2" r="2.3"/>
<circle cx="642.0" cy="453.8" r="2.3"/>
<circle cx="601.3" cy="423.4" r="2.3"/>
<circle cx="650.6" cy="358.3" r="2.3"/>
<circle cx="624.2" cy="314.2" r="2.3"/>
<circle cx="613.4" cy="449.8" r="2.3"/>
<circle cx="651.7" cy="367.0" r="2.3"/>
<circle cx="644.7" cy="454.5" r="2.3"/>
<circle cx="602.5" cy="464.8" r="2.3"/>
<circle cx="605.2" cy="419.9" r="2.3"/>
<circle cx="612.4" cy="351.8" r="2.3"/>
<circle cx="601.4" cy="325.8" r="2.3"/>
<circle cx="643.9" cy="414.3" r="2.3"/>
<circle cx="638.0" cy="340.3" r="2.3"/>
<circle cx="644.8" cy="370.9" r="2.3"/>
<circle cx="605.7" cy="411.6" r="2.3"/>
<circle cx="619.2" cy="403.6" r="2.3"/>
<circle cx="652.3" cy="336.3" r="2.3"/>
<circle cx="627.9" cy="302.0" r="2.3"/>
<circle cx="641.1" cy="441.0" r="2.3"/>
<circle cx="637.7" cy="346.8" r="2.3"/>
<circle cx="600.3" cy="412.0" r="2.3"/>
<circle cx="631.6" cy="420.1" r="2.3"/>
<circle cx="638.1" cy="468.5" r="2.3"/>
<circle cx="640.1" cy="330.4" r="2.3"/>
<circle cx="600.6" cy="456.6" r="2.3"/>
<circle cx="627.7" cy="321.9" r="2.3"/>
<circle cx="606.9" cy="360.1" r="2.3"/>
<circle cx="608.4" cy="332.3" r="2.3"/>
<circle cx="627.9" cy="334.3" r="2.3"/>
<circle cx="652.5" cy="366.0" r="2.3"/>
<circle cx="627.4" cy="392.3" r="2.3"/>
<circle cx="603.2" cy="438.5" r="2.3"/>
<circle cx="601.4" cy="439.9" r="2.3"/>
<circle cx="649.4" cy="395.6" r="2.3"/>
<circle cx="615.0" cy="376.0" r="2.3"/>
<circle cx="627.2" cy="353.1" r="2.3"/>
<circle cx="606.6" cy="426.0" r="2.3"/>
<circle cx="629.0" cy="389.1" r="2.3"/>
<circle cx="629.1" cy="341.1" r="2.3"/>
<circle cx="627.2" cy="350.8" r="2.3"/>
<circle cx="612.4" cy="314.9" r="2.3"/>
<circle cx="641.2" cy="353.7" r="2.3"/>
<circle cx="611.7" cy="452.9" r="2.3"/>
<circle cx="645.4" cy="424.7" r="2.3"/>
<circle cx="637.8" cy="393.8" r="2.3"/>
<circle cx="622.1" cy="352.5" r="2.3"/>
<circle cx="624.2" cy="362.2" r="2.3"/>
<circle cx="616.9" cy="347.1" r="2.3"/>
<circle cx="615.9" cy="349.4" r="2.3"/>
<circle cx="617.0" cy="447.3" r="2.3"/>
<circle cx="630.0" cy="310.9" r="2.3"/>
<circle cx="627.4" cy="428.7" r="2.3"/>
<circle cx="618.5" cy="372.6" r="2.3"/>
<circle cx="630.5" cy="369.5" r="2.3"/>
<circle cx="653.3" cy="333.7" r="2.3"/>
<circle cx="627.2" cy="386.1" r="2.3"/>
<circle cx="647.5" cy="457.6" r="2.3"/>
<circle cx="609.7" cy="370.7" r="2.3"/>
<circle cx="633.9" cy="444.0" r="2.3"/>
<circle cx="635.6" cy="450.3" r="2.3"/>
<circle cx="628.2" cy="437.9" r="2.3"/>
<circle cx="604.9" cy="349.1" r="2.3"/>
<circle cx="638.1" cy="323.3" r="2.3"/>
<circle cx="630.9" cy="376.1" r="2.3"/>
<circle cx="631.0" cy="395.4" r="2.3"/>
<circle cx="616.5" cy="316.9" r="2.3"/>
<circle cx="616.2" cy="402.9" r="2.3"/>
<circle cx="629.8" cy="393.0" r="2.3"/>
<circle cx="606.2" cy="436.9" r="2.3"/>
<circle cx="635.4" cy="396.7" r="2.3"/>
<circle cx="623.4" cy="378.5" r="2.3"/>
<circle cx="619.9" cy="318.7" r="2.3"/>
<circle cx="648.1" cy="367.8" r="2.3"/>
<circle cx="646.6" cy="345.4" r="2.3"/>
<circle cx="620.3" cy="447.8" r="2.3"/>
<circle cx="609.1" cy="346.0" r="2.3"/>
<circle cx="616.3" cy="381.6" r="2.3"/>
<circle cx="648.6" cy="448.2" r="2.3"/>
<circle cx="621.8" cy="373.7" r="2.3"/>
<circle cx="633.5" cy="338.9" r="2.3"/>
<circle cx="634.0" cy="419.6" r="2.3"/>
<circle cx="623.0" cy="441.7" r="2.3"/>
<circle cx="615.0" cy="309.6" r="2.3"/>
<circle cx="605.5" cy="462.9" r="2.3"/>
<circle cx="614.7" cy="444.2" r="2.3"/>
<circle cx="639.4" cy="445.6" r="2.3"/>
<circle cx="649.6" cy="423.0" r="2.3"/>
<circle cx="613.6" cy="353.2" r="2.3"/>
<circle cx="602.7" cy="402.8" r="2.3"/>
<circle cx="637.7" cy="363.9" r="2.3"/>
<circle cx="650.0" cy="337.2" r="2.3"/>
<circle cx="629.1" cy="418.2" r="2.3"/>
<circle cx="605.7" cy="362.3" r="2.3"/>
<circle cx="623.7" cy="388.6" r="2.3"/>
<circle cx="603.4" cy="444.3" r="2.3"/>
<circle cx="605.4" cy="469.0" r="2.3"/>
<circle cx="634.3" cy="301.0" r="2.3"/>
<circle cx="607.0" cy="393.6" r="2.3"/>
<circle cx="649.5" cy="446.9" r="2.3"/>
<circle cx="609.5" cy="460.3" r="2.3"/>
<circle cx="601.7" cy="390.1" r="2.3"/>
<circle cx="650.5" cy="428.9" r="2.3"/>
<circle cx="603.8" cy="341.3" r="2.3"/>
<circle cx="599.7" cy="389.5" r="2.3"/>
<circle cx="622.2" cy="325.6" r="2.3"/>
<circle cx="608.4" cy="431.8" r="2.3"/>
<circle cx="604.1" cy="425.6" r="2.3"/>
<circle cx="633.0" cy="454.4" r="2.3"/>
<circle cx="625.5" cy="342.5" r="2.3"/>
<circle cx="609.7" cy="350.8" r="2.3"/>
<circle cx="630.9" cy="320.1" r="2.3"/>
<circle cx="609.2" cy="409.9" r="2.3"/>
<circle cx="613.1" cy="421.8" r="2.3"/>
<circle cx="627.2" cy="352.7" r="2.3"/>
<circle cx="646.1" cy="365.9" r="2.3"/>
<circle cx="608.7" cy="328.4" r="2.3"/>
<circle cx="615.7" cy="321.2" r="2.3"/>
<circle cx="640.7" cy="327.0" r="2.3"/>
<circle cx="650.7" cy="324.0" r="2.3"/>
<circle cx="649.5" cy="382.3" r="2.3"/>
<circle cx="630.9" cy="331.7" r="2.3"/>
<circle cx="636.6" cy="410.2" r="2.3"/>
<circle cx="600.2" cy="429.9" r="2.3"/>
<circle cx="601.4" cy="411.9" r="2.3"/>
<circle cx="608.0" cy="449.7" r="2.3"/>
<circle cx="601.9" cy="428.0" r="2.3"/>
<circle cx="618.6" cy="434.2" r="2.3"/>
<circle cx="607.4" cy="468.2" r="2.3"/>
<circle cx="630.2" cy="340.5" r="2.3"/>
<circle cx="641.3" cy="394.4" r="2.3"/>
<circle cx="646.6" cy="354.8" r="2.3"/>
<circle cx="618.4" cy="443.1" r="2.3"/>
<circle cx="652.9" cy="321.7" r="2.3"/>
<circle cx="606.8" cy="356.1" r="2.3"/>
<circle cx="615.8" cy="467.7" r="2.3"/>
<circle cx="617.9" cy="442.0" r="2.3"/>
<circle cx="646.4" cy="360.3" r="2.3"/>
<circle cx="611.3" cy="422.1" r="2.3"/>
<circle cx="610.1" cy="417.0" r="2.3"/>
<circle cx="646.8" cy="369.8" r="2.3"/>
<circle cx="634.1" cy="363.6" r="2.3"/>
<circle cx="617.7" cy="431.2" r="2.3"/>
<circle cx="626.2" cy="381.6" r="2.3"/>
<circle cx="630.0" cy="371.8" r="2.3"/>
<circle cx="607.2" cy="352.9" r="2.3"/>
<circle cx="617.4" cy="392.2" r="2.3"/>
</g>
<line x1="601" y1="387" x2="653" y2="387" stroke="#000" stroke-width="1.8"/>
<g stroke="#a8a8a8" stroke-width="1.3" fill="none"><path d="M43.4,540.4 V746.8 H240"/></g>
<g stroke="#666" stroke-width="0.8">
<line x1="43.4" y1="726.2" x2="45.8" y2="726.2"/>
<line x1="63.1" y1="746.8" x2="63.1" y2="744.4"/>
<line x1="43.4" y1="705.5" x2="45.8" y2="705.5"/>
<line x1="82.7" y1="746.8" x2="82.7" y2="744.4"/>
<line x1="43.4" y1="684.9" x2="45.8" y2="684.9"/>
<line x1="102.4" y1="746.8" x2="102.4" y2="744.4"/>
<line x1="43.4" y1="664.2" x2="45.8" y2="664.2"/>
<line x1="122.0" y1="746.8" x2="122.0" y2="744.4"/>
<line x1="43.4" y1="643.6" x2="45.8" y2="643.6"/>
<line x1="141.7" y1="746.8" x2="141.7" y2="744.4"/>
<line x1="43.4" y1="623.0" x2="45.8" y2="623.0"/>
<line x1="161.4" y1="746.8" x2="161.4" y2="744.4"/>
<line x1="43.4" y1="602.3" x2="45.8" y2="602.3"/>
<line x1="181.0" y1="746.8" x2="181.0" y2="744.4"/>
<line x1="43.4" y1="581.7" x2="45.8" y2="581.7"/>
<line x1="200.7" y1="746.8" x2="200.7" y2="744.4"/>
<line x1="43.4" y1="561.0" x2="45.8" y2="561.0"/>
<line x1="220.3" y1="746.8" x2="220.3" y2="744.4"/>
</g>
<g font-family="Liberation Sans, Arial, sans-serif" font-size="15" fill="#111"><text x="30.2" y="544.7" >1</text><text x="30.3" y="751.8">0</text><text x="39.8" y="762.8">0</text><text x="231.5" y="762.8">1</text></g>
<text x="98" y="772" font-family="Liberation Sans, Arial, sans-serif" font-size="14.8" fill="#111">OSI in Day 1</text>
<text transform="translate(28.6,688.5) rotate(-90)" font-family="Liberation Sans, Arial, sans-serif" font-size="15.2" fill="#111">OSI in Day 3</text>
<g fill="none" stroke="#4a4a4a" stroke-width="0.9">
<circle cx="92.7" cy="620.2" r="3.4"/>
<circle cx="138.4" cy="622.9" r="3.4"/>
<circle cx="106.2" cy="637.4" r="3.4"/>
<circle cx="137.3" cy="639" r="3.4"/>
<circle cx="143.2" cy="639.5" r="3.4"/>
<circle cx="145.3" cy="639.5" r="3.4"/>
<circle cx="151.8" cy="641.1" r="3.4"/>
<circle cx="154.5" cy="630.9" r="3.4"/>
<circle cx="156.6" cy="634.7" r="3.4"/>
<circle cx="163.6" cy="635.5" r="3.4"/>
<circle cx="162.3" cy="643" r="3.4"/>
<circle cx="80.1" cy="648.4" r="3.4"/>
<circle cx="86" cy="654.8" r="3.4"/>
<circle cx="94.4" cy="654.6" r="3.4"/>
<circle cx="98.4" cy="650.3" r="3.4"/>
<circle cx="123.9" cy="658.8" r="3.4"/>
<circle cx="125.8" cy="665.3" r="3.4"/>
<circle cx="106.7" cy="670.1" r="3.4"/>
<circle cx="136.2" cy="668.5" r="3.4"/>
<circle cx="147.5" cy="695.6" r="3.4"/>
<circle cx="114.5" cy="704.7" r="3.4"/>
</g>
<line x1="43.5" y1="660.8" x2="239.5" y2="635.2" stroke="#b4b4b4" stroke-width="2"/>
<rect x="281.20" y="566.57" width="21.87" height="180.43" fill="#d580d8" stroke="#333" stroke-width="0.9"/>
<rect x="303.07" y="618.12" width="21.87" height="128.88" fill="#d580d8" stroke="#333" stroke-width="0.9"/>
<rect x="324.93" y="643.90" width="21.87" height="103.10" fill="#d580d8" stroke="#333" stroke-width="0.9"/>
<rect x="368.67" y="721.23" width="21.87" height="25.78" fill="#d580d8" stroke="#333" stroke-width="0.9"/>
<rect x="390.53" y="721.23" width="21.87" height="25.78" fill="#d580d8" stroke="#333" stroke-width="0.9"/>
<rect x="412.40" y="695.45" width="21.87" height="51.55" fill="#d580d8" stroke="#333" stroke-width="0.9"/>
<rect x="434.27" y="721.23" width="21.87" height="25.78" fill="#d580d8" stroke="#333" stroke-width="0.9"/>
<rect x="281.2" y="540.8" width="196.8" height="206.20000000000005" fill="none" stroke="#8a8a8a" stroke-width="1.2"/>
<g stroke="#555" stroke-width="0.8">
<line x1="281.2" y1="721.2" x2="283.7" y2="721.2"/><line x1="478.0" y1="721.2" x2="475.5" y2="721.2"/>
<line x1="281.2" y1="695.5" x2="283.7" y2="695.5"/><line x1="478.0" y1="695.5" x2="475.5" y2="695.5"/>
<line x1="281.2" y1="669.7" x2="283.7" y2="669.7"/><line x1="478.0" y1="669.7" x2="475.5" y2="669.7"/>
<line x1="281.2" y1="643.9" x2="283.7" y2="643.9"/><line x1="478.0" y1="643.9" x2="475.5" y2="643.9"/>
<line x1="281.2" y1="618.1" x2="283.7" y2="618.1"/><line x1="478.0" y1="618.1" x2="475.5" y2="618.1"/>
<line x1="281.2" y1="592.3" x2="283.7" y2="592.3"/><line x1="478.0" y1="592.3" x2="475.5" y2="592.3"/>
<line x1="281.2" y1="566.6" x2="283.7" y2="566.6"/><line x1="478.0" y1="566.6" x2="475.5" y2="566.6"/>
<line x1="292.1" y1="540.8" x2="292.1" y2="543.3"/><line x1="292.1" y1="747" x2="292.1" y2="744.5"/>
<line x1="314.0" y1="540.8" x2="314.0" y2="543.3"/><line x1="314.0" y1="747" x2="314.0" y2="744.5"/>
<line x1="335.9" y1="540.8" x2="335.9" y2="543.3"/><line x1="335.9" y1="747" x2="335.9" y2="744.5"/>
<line x1="357.7" y1="540.8" x2="357.7" y2="543.3"/><line x1="357.7" y1="747" x2="357.7" y2="744.5"/>
<line x1="379.6" y1="540.8" x2="379.6" y2="543.3"/><line x1="379.6" y1="747" x2="379.6" y2="744.5"/>
<line x1="401.5" y1="540.8" x2="401.5" y2="543.3"/><line x1="401.5" y1="747" x2="401.5" y2="744.5"/>
<line x1="423.3" y1="540.8" x2="423.3" y2="543.3"/><line x1="423.3" y1="747" x2="423.3" y2="744.5"/>
<line x1="445.2" y1="540.8" x2="445.2" y2="543.3"/><line x1="445.2" y1="747" x2="445.2" y2="744.5"/>
<line x1="467.1" y1="540.8" x2="467.1" y2="543.3"/><line x1="467.1" y1="747" x2="467.1" y2="744.5"/>
</g>
<line x1="281.2" y1="686.7" x2="478.0" y2="686.7" stroke="#8a8a8a" stroke-width="1.5" stroke-dasharray="6,4"/>
<path d="M281.2,564.0 L283.4,571.1 L285.6,578.0 L287.8,584.6 L289.9,590.9 L292.1,597.0 L294.3,602.9 L296.5,608.5 L298.7,613.9 L300.9,619.1 L303.1,624.1 L305.3,628.9 L307.4,633.5 L309.6,637.9 L311.8,642.2 L314.0,646.3 L316.2,650.2 L318.4,654.0 L320.6,657.6 L322.7,661.1 L324.9,664.4 L327.1,667.7 L329.3,670.8 L331.5,673.7 L333.7,676.6 L335.9,679.3 L338.1,682.0 L340.2,684.5 L342.4,687.0 L344.6,689.3 L346.8,691.5 L349.0,693.7 L351.2,695.8 L353.4,697.8 L355.5,699.7 L357.7,701.6 L359.9,703.3 L362.1,705.0 L364.3,706.7 L366.5,708.2 L368.7,709.8 L370.9,711.2 L373.0,712.6 L375.2,713.9 L377.4,715.2 L379.6,716.5 L381.8,717.7 L384.0,718.8 L386.2,719.9 L388.3,721.0 L390.5,722.0 L392.7,723.0 L394.9,723.9 L397.1,724.8 L399.3,725.7 L401.5,726.5 L403.7,727.3 L405.8,728.1 L408.0,728.8 L410.2,729.5 L412.4,730.2 L414.6,730.9 L416.8,731.5 L419.0,732.1 L421.1,732.7 L423.3,733.2 L425.5,733.8 L427.7,734.3 L429.9,734.8 L432.1,735.3 L434.3,735.7 L436.5,736.2 L438.6,736.6 L440.8,737.0 L443.0,737.4 L445.2,737.8 L447.4,738.1 L449.6,738.5 L451.8,738.8 L453.9,739.1 L456.1,739.4 L458.3,739.7 L460.5,740.0 L462.7,740.3 L464.9,740.5 L467.1,740.8 L469.3,741.0 L471.4,741.3 L473.6,741.5 L475.8,741.7 L478.0,741.9" fill="none" stroke="#333" stroke-width="1"/>
<text x="377.1" y="535" font-family="Liberation Sans, Arial, sans-serif" font-size="15.7" fill="#111" text-anchor="middle">Identified pairs</text>
<text transform="translate(298.1,753) rotate(-60)" font-family="Liberation Sans, Arial, sans-serif" font-size="13" fill="#111" text-anchor="end">0-10</text>
<text transform="translate(320.0,753) rotate(-60)" font-family="Liberation Sans, Arial, sans-serif" font-size="13" fill="#111" text-anchor="end">10-20</text>
<text transform="translate(341.9,753) rotate(-60)" font-family="Liberation Sans, Arial, sans-serif" font-size="13" fill="#111" text-anchor="end">20-30</text>
<text transform="translate(363.7,753) rotate(-60)" font-family="Liberation Sans, Arial, sans-serif" font-size="13" fill="#111" text-anchor="end">30-40</text>
<text transform="translate(385.6,753) rotate(-60)" font-family="Liberation Sans, Arial, sans-serif" font-size="13" fill="#111" text-anchor="end">40-50</text>
<text transform="translate(407.5,753) rotate(-60)" font-family="Liberation Sans, Arial, sans-serif" font-size="13" fill="#111" text-anchor="end">50-60</text>
<text transform="translate(429.3,753) rotate(-60)" font-family="Liberation Sans, Arial, sans-serif" font-size="13" fill="#111" text-anchor="end">60-70</text>
<text transform="translate(451.2,753) rotate(-60)" font-family="Liberation Sans, Arial, sans-serif" font-size="13" fill="#111" text-anchor="end">70-80</text>
<text transform="translate(473.1,753) rotate(-60)" font-family="Liberation Sans, Arial, sans-serif" font-size="13" fill="#111" text-anchor="end">80-90</text>
<text x="300.4" y="800.4" font-family="Liberation Sans, Arial, sans-serif" font-size="15.6" fill="#111">Difference in preferred</text>
<text x="300.4" y="819.3" font-family="Liberation Sans, Arial, sans-serif" font-size="15.6" fill="#111">orientation (degree)</text>
<rect x="510.00" y="687.20" width="21.87" height="59.80" fill="#6e6e6e" stroke="#333" stroke-width="0.9"/>
<rect x="531.87" y="685.40" width="21.87" height="61.60" fill="#6e6e6e" stroke="#333" stroke-width="0.9"/>
<rect x="553.73" y="671.22" width="21.87" height="75.78" fill="#6e6e6e" stroke="#333" stroke-width="0.9"/>
<rect x="575.60" y="704.21" width="21.87" height="42.79" fill="#6e6e6e" stroke="#333" stroke-width="0.9"/>
<rect x="597.47" y="688.75" width="21.87" height="58.25" fill="#6e6e6e" stroke="#333" stroke-width="0.9"/>
<rect x="619.33" y="679.73" width="21.87" height="67.27" fill="#6e6e6e" stroke="#333" stroke-width="0.9"/>
<rect x="641.20" y="692.61" width="21.87" height="54.39" fill="#6e6e6e" stroke="#333" stroke-width="0.9"/>
<rect x="663.07" y="678.70" width="21.87" height="68.30" fill="#6e6e6e" stroke="#333" stroke-width="0.9"/>
<rect x="684.93" y="697.51" width="21.87" height="49.49" fill="#6e6e6e" stroke="#333" stroke-width="0.9"/>
<rect x="510" y="540.8" width="196.8" height="206.20000000000005" fill="none" stroke="#8a8a8a" stroke-width="1.2"/>
<g stroke="#555" stroke-width="0.8">
<line x1="510" y1="721.2" x2="512.5" y2="721.2"/><line x1="706.8" y1="721.2" x2="704.3" y2="721.2"/>
<line x1="510" y1="695.5" x2="512.5" y2="695.5"/><line x1="706.8" y1="695.5" x2="704.3" y2="695.5"/>
<line x1="510" y1="669.7" x2="512.5" y2="669.7"/><line x1="706.8" y1="669.7" x2="704.3" y2="669.7"/>
<line x1="510" y1="643.9" x2="512.5" y2="643.9"/><line x1="706.8" y1="643.9" x2="704.3" y2="643.9"/>
<line x1="510" y1="618.1" x2="512.5" y2="618.1"/><line x1="706.8" y1="618.1" x2="704.3" y2="618.1"/>
<line x1="510" y1="592.3" x2="512.5" y2="592.3"/><line x1="706.8" y1="592.3" x2="704.3" y2="592.3"/>
<line x1="510" y1="566.6" x2="512.5" y2="566.6"/><line x1="706.8" y1="566.6" x2="704.3" y2="566.6"/>
<line x1="520.9" y1="540.8" x2="520.9" y2="543.3"/><line x1="520.9" y1="747" x2="520.9" y2="744.5"/>
<line x1="542.8" y1="540.8" x2="542.8" y2="543.3"/><line x1="542.8" y1="747" x2="542.8" y2="744.5"/>
<line x1="564.7" y1="540.8" x2="564.7" y2="543.3"/><line x1="564.7" y1="747" x2="564.7" y2="744.5"/>
<line x1="586.5" y1="540.8" x2="586.5" y2="543.3"/><line x1="586.5" y1="747" x2="586.5" y2="744.5"/>
<line x1="608.4" y1="540.8" x2="608.4" y2="543.3"/><line x1="608.4" y1="747" x2="608.4" y2="744.5"/>
<line x1="630.3" y1="540.8" x2="630.3" y2="543.3"/><line x1="630.3" y1="747" x2="630.3" y2="744.5"/>
<line x1="652.1" y1="540.8" x2="652.1" y2="543.3"/><line x1="652.1" y1="747" x2="652.1" y2="744.5"/>
<line x1="674.0" y1="540.8" x2="674.0" y2="543.3"/><line x1="674.0" y1="747" x2="674.0" y2="744.5"/>
<line x1="695.9" y1="540.8" x2="695.9" y2="543.3"/><line x1="695.9" y1="747" x2="695.9" y2="744.5"/>
</g>
<line x1="510" y1="686.7" x2="706.8" y2="686.7" stroke="#8a8a8a" stroke-width="1.5" stroke-dasharray="6,4"/>
<text x="603.5" y="535" font-family="Liberation Sans, Arial, sans-serif" font-size="15.7" fill="#111" text-anchor="middle">Shaffled pairs</text>
<text transform="translate(526.9,753) rotate(-60)" font-family="Liberation Sans, Arial, sans-serif" font-size="13" fill="#111" text-anchor="end">0-10</text>
<text transform="translate(548.8,753) rotate(-60)" font-family="Liberation Sans, Arial, sans-serif" font-size="13" fill="#111" text-anchor="end">10-20</text>
<text transform="translate(570.7,753) rotate(-60)" font-family="Liberation Sans, Arial, sans-serif" font-size="13" fill="#111" text-anchor="end">20-30</text>
<text transform="translate(592.5,753) rotate(-60)" font-family="Liberation Sans, Arial, sans-serif" font-size="13" fill="#111" text-anchor="end">30-40</text>
<text transform="translate(614.4,753) rotate(-60)" font-family="Liberation Sans, Arial, sans-serif" font-size="13" fill="#111" text-anchor="end">40-50</text>
<text transform="translate(636.3,753) rotate(-60)" font-family="Liberation Sans, Arial, sans-serif" font-size="13" fill="#111" text-anchor="end">50-60</text>
<text transform="translate(658.1,753) rotate(-60)" font-family="Liberation Sans, Arial, sans-serif" font-size="13" fill="#111" text-anchor="end">60-70</text>
<text transform="translate(680.0,753) rotate(-60)" font-family="Liberation Sans, Arial, sans-serif" font-size="13" fill="#111" text-anchor="end">70-80</text>
<text transform="translate(701.9,753) rotate(-60)" font-family="Liberation Sans, Arial, sans-serif" font-size="13" fill="#111" text-anchor="end">80-90</text>
<text x="529.2" y="800.4" font-family="Liberation Sans, Arial, sans-serif" font-size="15.6" fill="#111">Difference in preferred</text>
<text x="529.2" y="819.3" font-family="Liberation Sans, Arial, sans-serif" font-size="15.6" fill="#111">orientation (degree)</text>
<g font-family="Liberation Sans, Arial, sans-serif" font-size="13" fill="#111" text-anchor="end"><text x="278" y="546">8</text><text x="278" y="597.5">6</text><text x="278" y="649">4</text><text x="278" y="700.5">2</text><text x="278" y="752">0</text></g>
<text transform="translate(262,701) rotate(-90)" font-family="Liberation Sans, Arial, sans-serif" font-size="15.6" fill="#111">&#35; of ROI pairs</text>
</svg></body></html>
